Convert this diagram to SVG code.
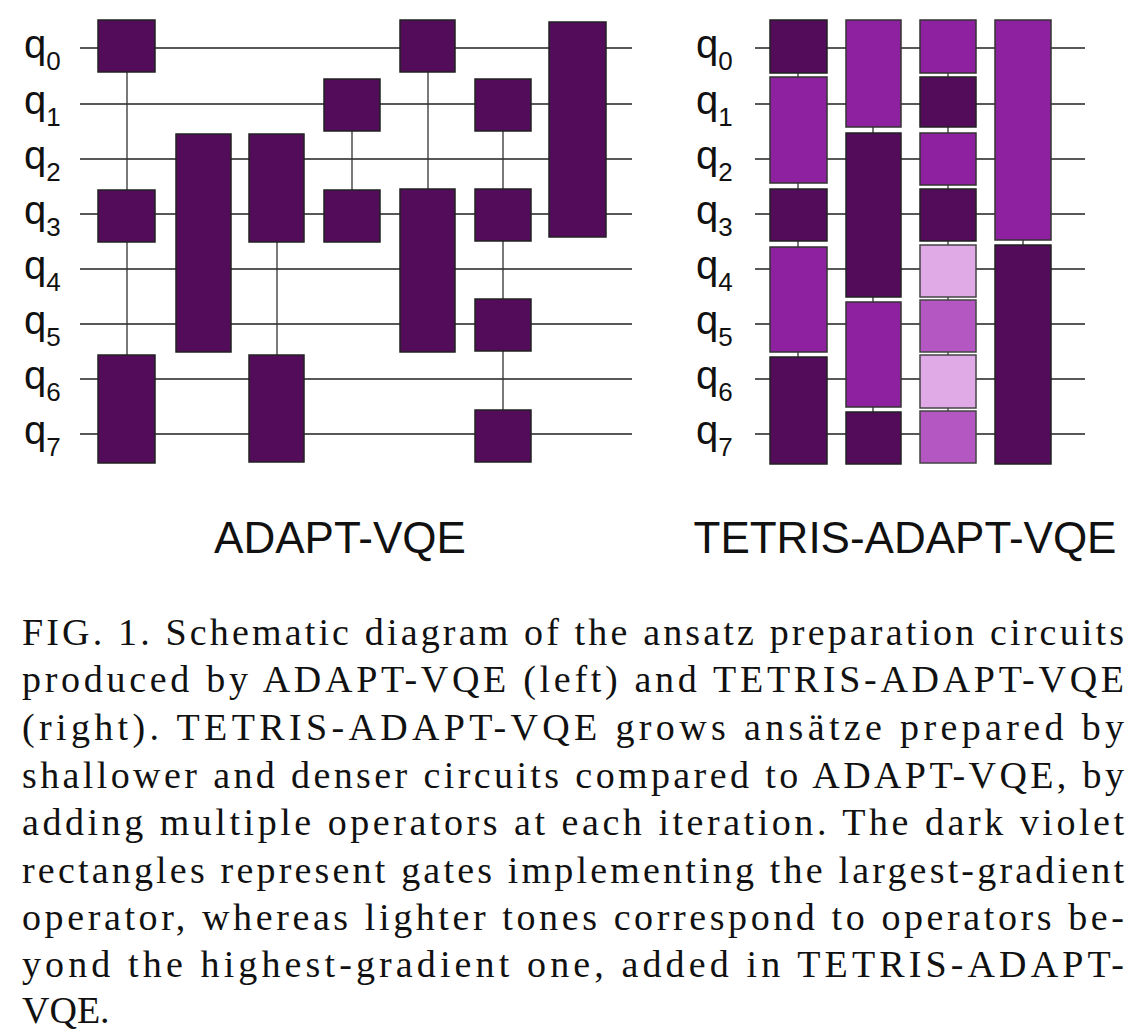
<svg xmlns="http://www.w3.org/2000/svg" width="1140" height="1036" viewBox="0 0 1140 1036">
<style>
.w{stroke:#222;stroke-width:1.3}
.c{stroke:#333;stroke-width:1.3}
.d{fill:#520c5a;stroke:#222;stroke-width:1.5}
.m{fill:#8e21a0;stroke:#333;stroke-width:1.5}
.l{fill:#dfaae6;stroke:#444;stroke-width:1.5}
.h{fill:#b457c2;stroke:#444;stroke-width:1.5}
.q{font-family:"Liberation Sans",Arial,sans-serif;font-size:40px;fill:#111}
.s{font-size:26px}
.t{font-family:"Liberation Sans",Arial,sans-serif;font-size:44px;fill:#111;text-anchor:middle}
.cap{font-family:"Liberation Serif","Times New Roman",serif;font-size:38px;fill:#111}
</style>
<g id="wires">
<path class="w" d="M80 48H632M80 104H632M80 159H632M80 214H632M80 269H632M80 324H632M80 379H632M80 434H632"/>
<path class="w" d="M755 48H1085M755 104H1085M755 159H1085M755 214H1085M755 269H1085M755 324H1085M755 379H1085M755 434H1085"/>
</g>
<g id="labels">
<text class="q" x="24" y="58">q<tspan class="s" dy="12">0</tspan></text>
<text class="q" x="24" y="114">q<tspan class="s" dy="12">1</tspan></text>
<text class="q" x="24" y="169">q<tspan class="s" dy="12">2</tspan></text>
<text class="q" x="24" y="224">q<tspan class="s" dy="12">3</tspan></text>
<text class="q" x="24" y="279">q<tspan class="s" dy="12">4</tspan></text>
<text class="q" x="24" y="334">q<tspan class="s" dy="12">5</tspan></text>
<text class="q" x="24" y="389">q<tspan class="s" dy="12">6</tspan></text>
<text class="q" x="24" y="444">q<tspan class="s" dy="12">7</tspan></text>
<text class="q" x="696" y="58">q<tspan class="s" dy="12">0</tspan></text>
<text class="q" x="696" y="114">q<tspan class="s" dy="12">1</tspan></text>
<text class="q" x="696" y="169">q<tspan class="s" dy="12">2</tspan></text>
<text class="q" x="696" y="224">q<tspan class="s" dy="12">3</tspan></text>
<text class="q" x="696" y="279">q<tspan class="s" dy="12">4</tspan></text>
<text class="q" x="696" y="334">q<tspan class="s" dy="12">5</tspan></text>
<text class="q" x="696" y="389">q<tspan class="s" dy="12">6</tspan></text>
<text class="q" x="696" y="444">q<tspan class="s" dy="12">7</tspan></text>
</g>
<g id="connectors">
<path class="c" d="M127 72V355M277 242V355M352 131V190M428 72V189M503 131V410"/>
<path class="c" d="M798 73V77M798 183V189M798 241V247M798 352V357M873 127V133M873 297V302M873 407V412M948 73V77M948 127V133M948 185V189M948 241V245M948 297V300M948 352V355M948 408V411M1023 240V245"/>
</g>
<g id="adapt">
<rect class="d" x="98" y="20" width="57" height="52"/>
<rect class="d" x="98" y="190" width="57" height="52"/>
<rect class="d" x="98" y="355" width="57" height="108"/>
<rect class="d" x="176" y="134" width="55" height="218"/>
<rect class="d" x="249" y="134" width="55" height="108"/>
<rect class="d" x="249" y="355" width="55" height="107"/>
<rect class="d" x="324" y="79" width="56" height="52"/>
<rect class="d" x="324" y="190" width="56" height="52"/>
<rect class="d" x="400" y="20" width="55" height="52"/>
<rect class="d" x="400" y="189" width="55" height="163"/>
<rect class="d" x="475" y="79" width="56" height="52"/>
<rect class="d" x="475" y="189" width="56" height="52"/>
<rect class="d" x="475" y="299" width="56" height="52"/>
<rect class="d" x="475" y="410" width="56" height="52"/>
<rect class="d" x="549" y="22" width="57" height="215"/>
</g>
<g id="tetris">
<rect class="d" x="770" y="20" width="57" height="53"/>
<rect class="m" x="770" y="77" width="57" height="106"/>
<rect class="d" x="770" y="189" width="57" height="52"/>
<rect class="m" x="770" y="247" width="57" height="105"/>
<rect class="d" x="770" y="357" width="57" height="107"/>
<rect class="m" x="846" y="20" width="55" height="107"/>
<rect class="d" x="846" y="133" width="55" height="164"/>
<rect class="m" x="846" y="302" width="55" height="105"/>
<rect class="d" x="846" y="412" width="55" height="52"/>
<rect class="m" x="920" y="20" width="56" height="53"/>
<rect class="d" x="920" y="77" width="56" height="50"/>
<rect class="m" x="920" y="133" width="56" height="52"/>
<rect class="d" x="920" y="189" width="56" height="52"/>
<rect class="l" x="920" y="245" width="56" height="52"/>
<rect class="h" x="920" y="300" width="56" height="52"/>
<rect class="l" x="920" y="355" width="56" height="53"/>
<rect class="h" x="920" y="411" width="56" height="52"/>
<rect class="m" x="995" y="20" width="56" height="220"/>
<rect class="d" x="995" y="245" width="56" height="219"/>
</g>
<g id="titles">
<text class="t" x="340" y="553">ADAPT-VQE</text>
<text class="t" x="905" y="553">TETRIS-ADAPT-VQE</text>
</g>
<g id="caption" class="cap">
<text x="22" y="645" textLength="1102" lengthAdjust="spacing">FIG. 1. Schematic diagram of the ansatz preparation circuits</text>
<text x="22" y="692" textLength="1102" lengthAdjust="spacing">produced by ADAPT-VQE (left) and TETRIS-ADAPT-VQE</text>
<text x="22" y="740" textLength="1102" lengthAdjust="spacing">(right).  TETRIS-ADAPT-VQE grows ansätze prepared by</text>
<text x="22" y="788" textLength="1102" lengthAdjust="spacing">shallower and denser circuits compared to ADAPT-VQE, by</text>
<text x="22" y="835" textLength="1102" lengthAdjust="spacing">adding multiple operators at each iteration. The dark violet</text>
<text x="22" y="883" textLength="1102" lengthAdjust="spacing">rectangles represent gates implementing the largest-gradient</text>
<text x="22" y="930" textLength="1102" lengthAdjust="spacing">operator, whereas lighter tones correspond to operators be-</text>
<text x="22" y="977" textLength="1102" lengthAdjust="spacing">yond the highest-gradient one, added in TETRIS-ADAPT-</text>
<text x="22" y="1023">VQE.</text>
</g>
</svg>
